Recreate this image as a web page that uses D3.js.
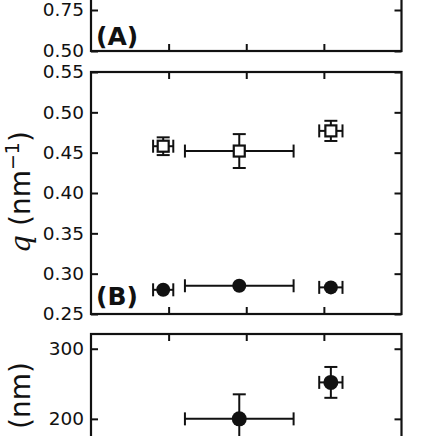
<!DOCTYPE html>
<html>
<head>
<meta charset="utf-8">
<script src="https://cdn.jsdelivr.net/npm/d3@7"></script>
<style>
  html, body { margin: 0; padding: 0; background: #fff; }
  svg { display: block; }
  .axis text { font-family: "DejaVu Sans", sans-serif; font-size: 18.5px; fill: #111; }
  .axis line { stroke: #111; stroke-width: 2; }
  .axis path { display: none; }
</style>
</head>
<body>
<div class="canvas"></div>
<script>
var w = 436;
var h = 436;

// data
var xVals = [0.93, 1.91, 3.09];
var xErr = [0.13, 0.70, 0.15];

var qOpen = [0.458, 0.452, 0.477];
var qOpenErr = [0.011, 0.021, 0.0125];
var qFilled = [0.280, 0.285, 0.283];
var qFilledErr = [0, 0, 0];

var sizeVals = [null, 200, 252];
var sizeErr = [null, 35, 22];

var xTicks = [1, 2, 3];
var aTicks = [0.50, 0.75];
var bTicks = [0.25, 0.30, 0.35, 0.40, 0.45, 0.50, 0.55];
var cTicks = [200, 300];

var left = 91, right = 401.5;

var xScale = d3.scaleLinear().domain([0, 4]).range([left, right]);

var svg = d3.select(".canvas").append("svg")
    .attr("width", w)
    .attr("height", h);

function panel(y0, y1, domain, ticks, fmt) {
    var yScale = d3.scaleLinear().domain(domain).range([y1, y0]);
    var g = svg.append("g");

    g.append("g").attr("class", "axis")
        .attr("transform", "translate(" + left + ",0)")
        .call(d3.axisLeft(yScale).tickValues(ticks).tickFormat(fmt)
            .tickSizeInner(-7).tickSizeOuter(0).tickPadding(7));
    g.append("g").attr("class", "axis")
        .attr("transform", "translate(" + right + ",0)")
        .call(d3.axisRight(yScale).tickValues(ticks).tickFormat("")
            .tickSizeInner(-7).tickSizeOuter(0));
    g.append("g").attr("class", "axis")
        .attr("transform", "translate(0," + y0 + ")")
        .call(d3.axisTop(xScale).tickValues(xTicks).tickFormat("")
            .tickSizeInner(-7).tickSizeOuter(0));
    g.append("g").attr("class", "axis")
        .attr("transform", "translate(0," + y1 + ")")
        .call(d3.axisBottom(xScale).tickValues(xTicks).tickFormat("")
            .tickSizeInner(-7).tickSizeOuter(0));

    g.append("rect")
        .attr("x", left).attr("y", y0)
        .attr("width", right - left).attr("height", y1 - y0)
        .attr("fill", "none").attr("stroke", "#111").attr("stroke-width", 2.2);
    return { g: g, y: yScale };
}

function errorbars(p, ys, yErr) {
    var cap = 6.5;
    for (var i = 0; i < ys.length; i++) {
        if (ys[i] == null) continue;
        var cx = xScale(xVals[i]), cy = p.y(ys[i]);
        var xl = xScale(xVals[i] - xErr[i]), xr = xScale(xVals[i] + xErr[i]);
        var eg = p.g.append("g").attr("stroke", "#111").attr("stroke-width", 2).attr("fill", "none");
        eg.append("line").attr("x1", xl).attr("x2", xr).attr("y1", cy).attr("y2", cy);
        eg.append("line").attr("x1", xl).attr("x2", xl).attr("y1", cy - cap).attr("y2", cy + cap);
        eg.append("line").attr("x1", xr).attr("x2", xr).attr("y1", cy - cap).attr("y2", cy + cap);
        if (yErr[i]) {
            var yt = p.y(ys[i] + yErr[i]), yb = p.y(ys[i] - yErr[i]);
            eg.append("line").attr("x1", cx).attr("x2", cx).attr("y1", yt).attr("y2", yb);
            eg.append("line").attr("x1", cx - cap).attr("x2", cx + cap).attr("y1", yt).attr("y2", yt);
            eg.append("line").attr("x1", cx - cap).attr("x2", cx + cap).attr("y1", yb).attr("y2", yb);
        }
    }
}

// (A)
var pA = panel(-31, 51, [0.5, 1.0], aTicks, d3.format(".2f"));
pA.g.append("text").attr("x", 96).attr("y", 44.5)
    .attr("font-family", "DejaVu Sans").attr("font-weight", "bold")
    .attr("font-size", 25).attr("fill", "#111").text("(A)");

// (B)
var pB = panel(72, 314, [0.25, 0.55], bTicks, d3.format(".2f"));
errorbars(pB, qOpen, qOpenErr);
errorbars(pB, qFilled, qFilledErr);
pB.g.selectAll("rect.sq").data(qOpen).enter().append("rect")
    .attr("class", "sq")
    .attr("x", function (d, i) { return xScale(xVals[i]) - 5.5; })
    .attr("y", function (d) { return pB.y(d) - 5.5; })
    .attr("width", 11).attr("height", 11)
    .attr("fill", "#fff").attr("stroke", "#111").attr("stroke-width", 2.2);
pB.g.selectAll("circle").data(qFilled).enter().append("circle")
    .attr("cx", function (d, i) { return xScale(xVals[i]); })
    .attr("cy", function (d) { return pB.y(d); })
    .attr("r", 7).attr("fill", "#111");
pB.g.append("text").attr("x", 96).attr("y", 304.5)
    .attr("font-family", "DejaVu Sans").attr("font-weight", "bold")
    .attr("font-size", 25).attr("fill", "#111").text("(B)");

var qLabel = svg.append("text")
    .attr("transform", "translate(30,192) rotate(-90)")
    .attr("text-anchor", "middle")
    .attr("font-family", "DejaVu Sans").attr("font-size", 28).attr("fill", "#111");
qLabel.append("tspan").attr("font-family", "DejaVu Serif").attr("font-style", "italic").text("q");
qLabel.append("tspan").text(" (nm");
qLabel.append("tspan").attr("font-size", 19).attr("dy", -11).text("\u22121");
qLabel.append("tspan").attr("dy", 11).text(")");

// (C)
var pC = panel(334, 489, [100, 321], cTicks, d3.format("d"));
errorbars(pC, sizeVals, sizeErr);
pC.g.selectAll("circle").data(sizeVals.filter(function (d) { return d != null; })).enter().append("circle")
    .attr("cx", function (d) { return xScale(xVals[sizeVals.indexOf(d)]); })
    .attr("cy", function (d) { return pC.y(d); })
    .attr("r", 7.5).attr("fill", "#111");

svg.append("text")
    .attr("transform", "translate(30,362) rotate(-90)")
    .attr("text-anchor", "end")
    .attr("font-family", "DejaVu Sans").attr("font-size", 28).attr("fill", "#111")
    .text("(nm)");
</script>
</body>
</html>
